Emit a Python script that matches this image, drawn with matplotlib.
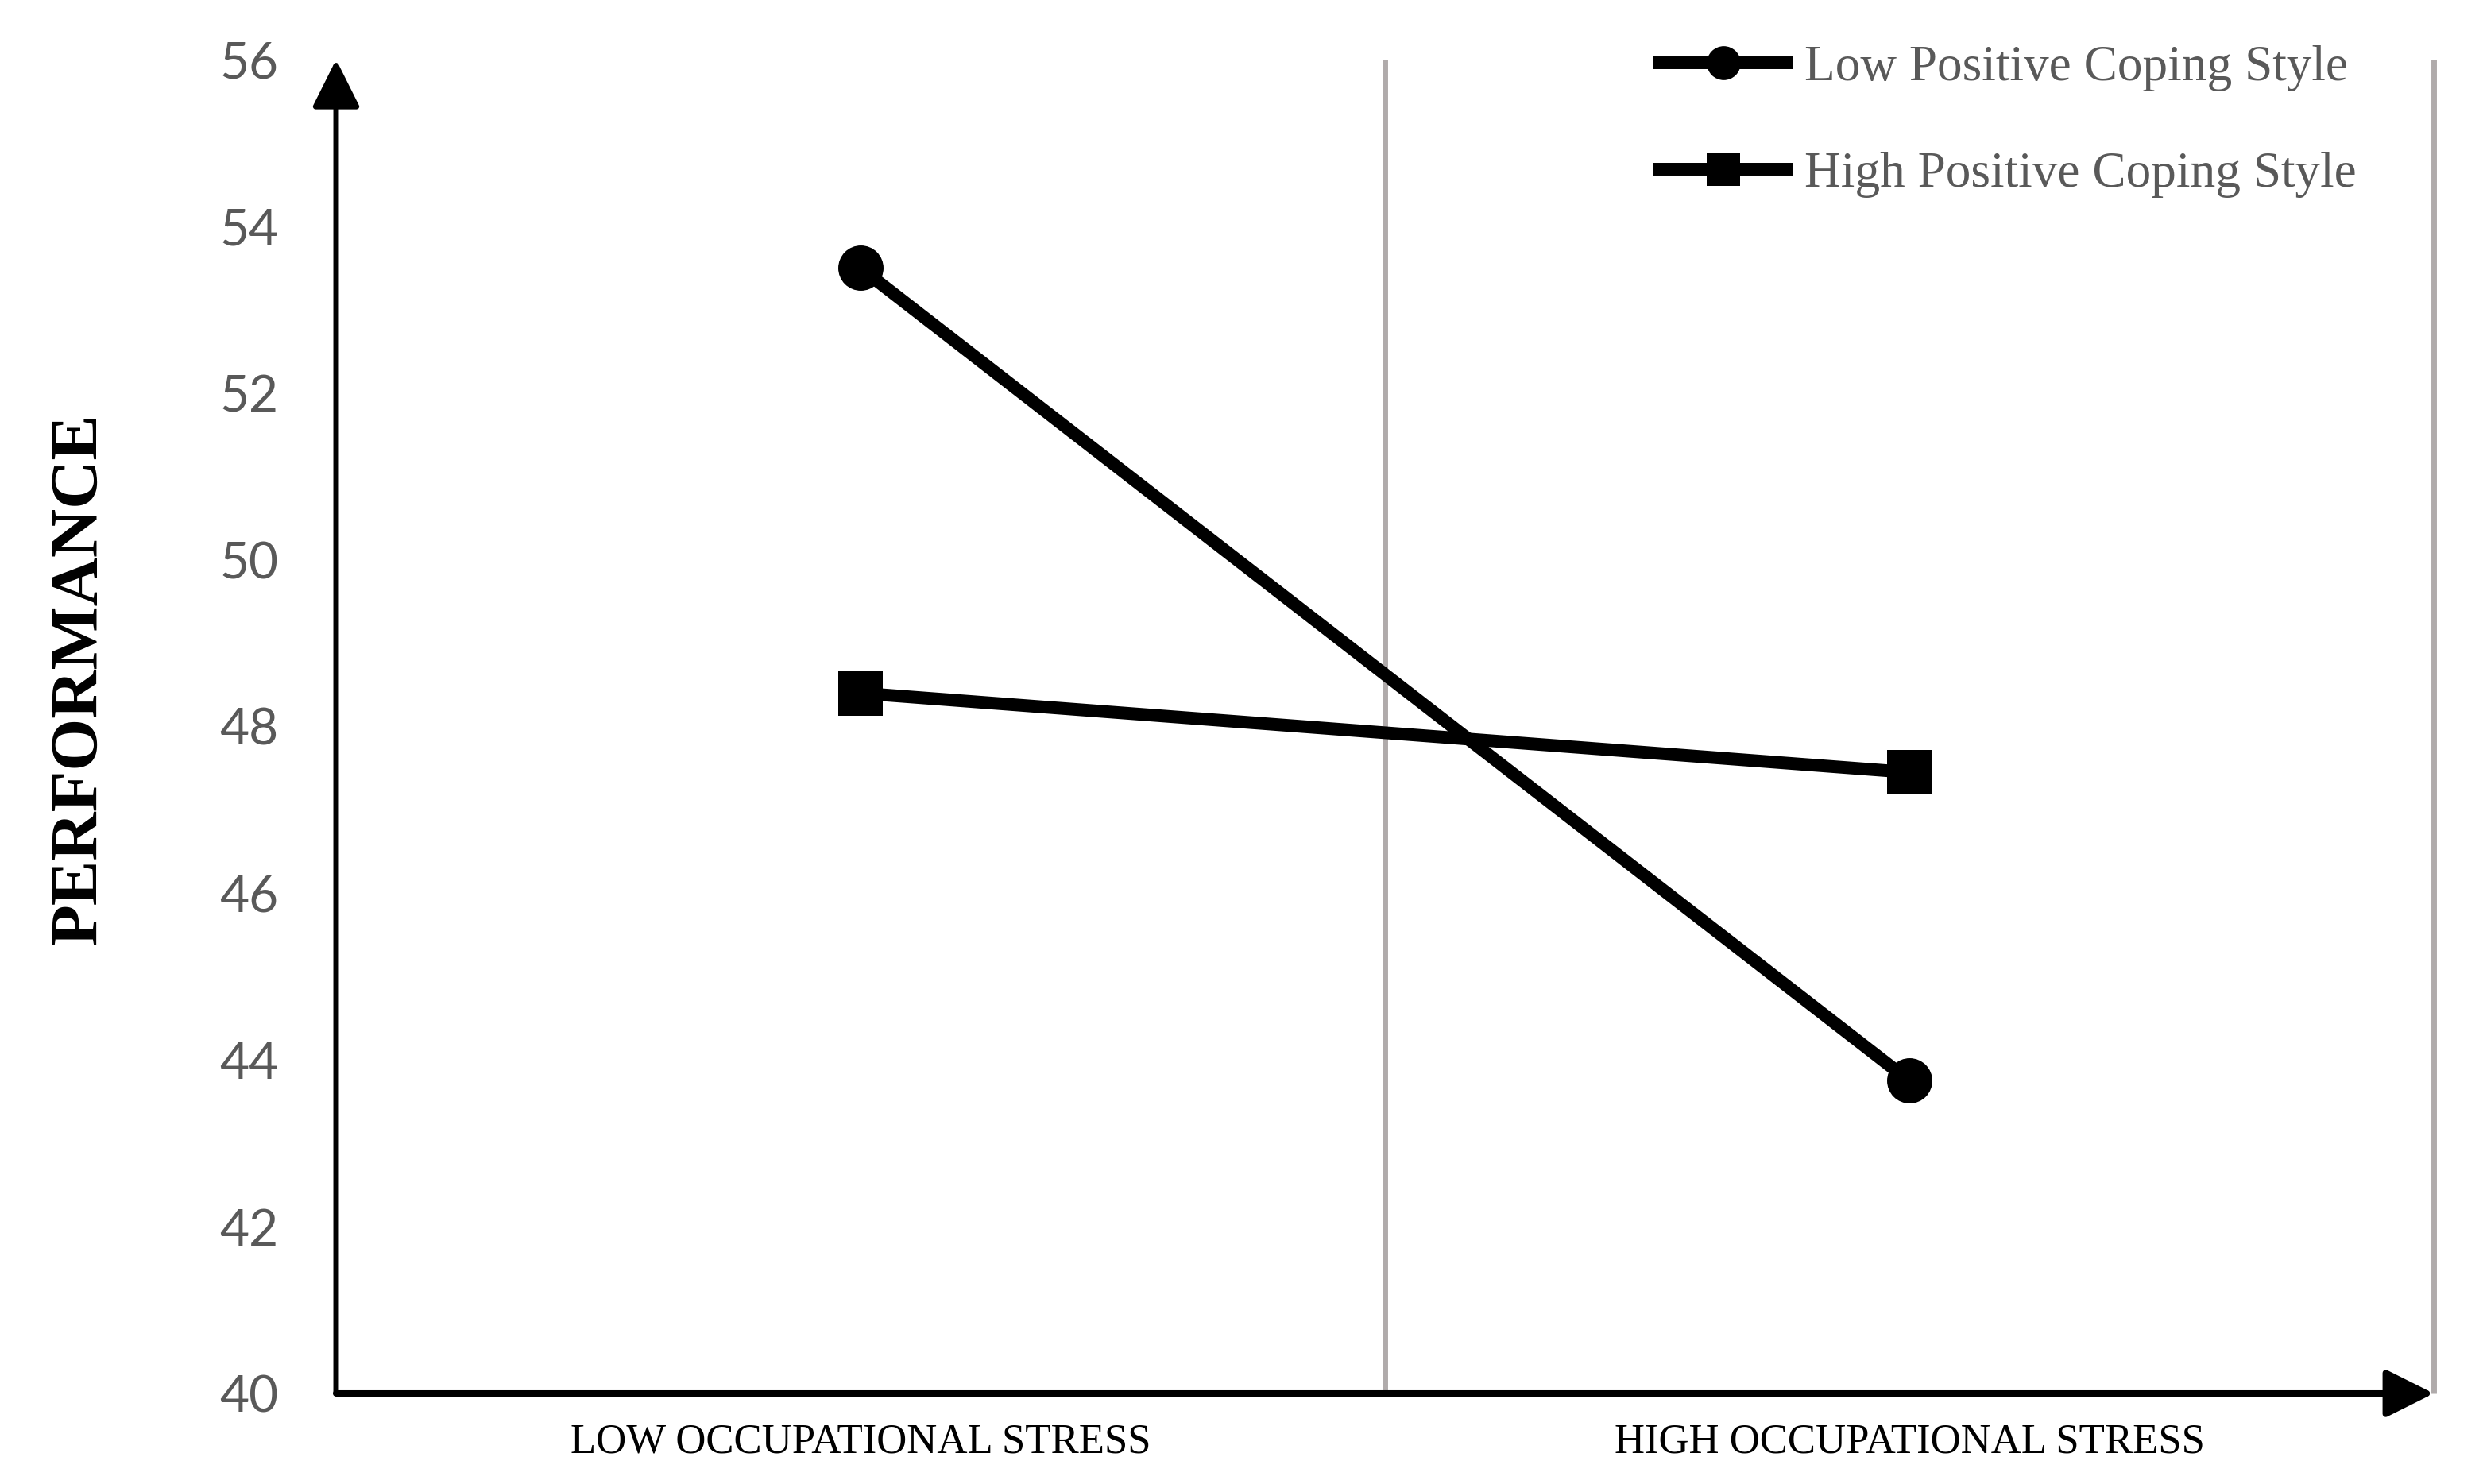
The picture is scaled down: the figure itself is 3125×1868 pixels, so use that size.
import numpy as np
import matplotlib
matplotlib.use("Agg")
import matplotlib.pyplot as plt

# values
categories = ["LOW OCCUPATIONAL STRESS", "HIGH OCCUPATIONAL STRESS"]
low_coping = [53.5, 43.75]
high_coping = [48.4, 47.45]
series_names = ["Low Positive Coping Style", "High Positive Coping Style"]
y_ticks = [40, 42, 44, 46, 48, 50, 52, 54, 56]

grey_text = "#595959"
grid_col = "#B0ABAB"

fig = plt.figure(figsize=(31.25, 18.68), dpi=100)
ax = fig.add_axes([0.13536, 0.06103, 0.8448, 0.89882])

x = np.arange(len(categories)) + 0.5
ax.set_xlim(0, len(categories))
ax.set_ylim(y_ticks[0], y_ticks[-1])

# vertical category boundaries (Excel style gridlines)
ax.vlines(np.arange(1, len(categories) + 1), y_ticks[0], y_ticks[-1],
          color=grid_col, linewidth=5, clip_on=False, zorder=1)

l1, = ax.plot(x, low_coping, color="black", lw=11.5, marker="o", ms=41,
              mew=0, solid_capstyle="butt", zorder=3, clip_on=False)
l2, = ax.plot(x, high_coping, color="black", lw=11.5, marker="s", ms=41,
              mew=0, solid_capstyle="butt", zorder=3, clip_on=False)

for s in ax.spines.values():
    s.set_visible(False)

# axes drawn as arrows
ax.annotate("", xy=(len(categories), y_ticks[0]), xytext=(0, y_ticks[0]),
            xycoords="data",
            arrowprops=dict(arrowstyle="-|>,head_length=0.5,head_width=0.25",
                            mutation_scale=74, color="black", lw=5.8,
                            shrinkA=0, shrinkB=0),
            annotation_clip=False, zorder=4)
ax.annotate("", xy=(0, y_ticks[-1]), xytext=(0, y_ticks[0]),
            xycoords="data",
            arrowprops=dict(arrowstyle="-|>,head_length=0.5,head_width=0.25",
                            mutation_scale=74, color="black", lw=5,
                            shrinkA=0, shrinkB=0),
            annotation_clip=False, zorder=4)

ax.set_yticks(y_ticks)
ax.set_yticklabels([str(v) for v in y_ticks], family="Lato", fontsize=46,
                   color=grey_text)
ax.tick_params(axis="y", length=0, pad=52)

ax.set_xticks(x)
ax.set_xticklabels(categories, family="Liberation Serif", fontsize=38,
                   color="black")
ax.tick_params(axis="x", length=0, pad=27)

fig.text(0.0323, 0.5425, "PERFORMANCE", rotation=90, ha="center", va="center",
         family="Liberation Serif", fontweight="bold", fontsize=61,
         color="black")

fig.legend([l1, l2], series_names, loc="upper left",
           bbox_to_anchor=(0.6657, 0.9694), frameon=False,
           prop=dict(family="Liberation Serif", size=45.5),
           labelcolor=grey_text, handlelength=2.8, handletextpad=0.22,
           labelspacing=1.19, borderpad=0, borderaxespad=0, markerscale=0.75)

fig.savefig("out.png", dpi=100, facecolor="white")
